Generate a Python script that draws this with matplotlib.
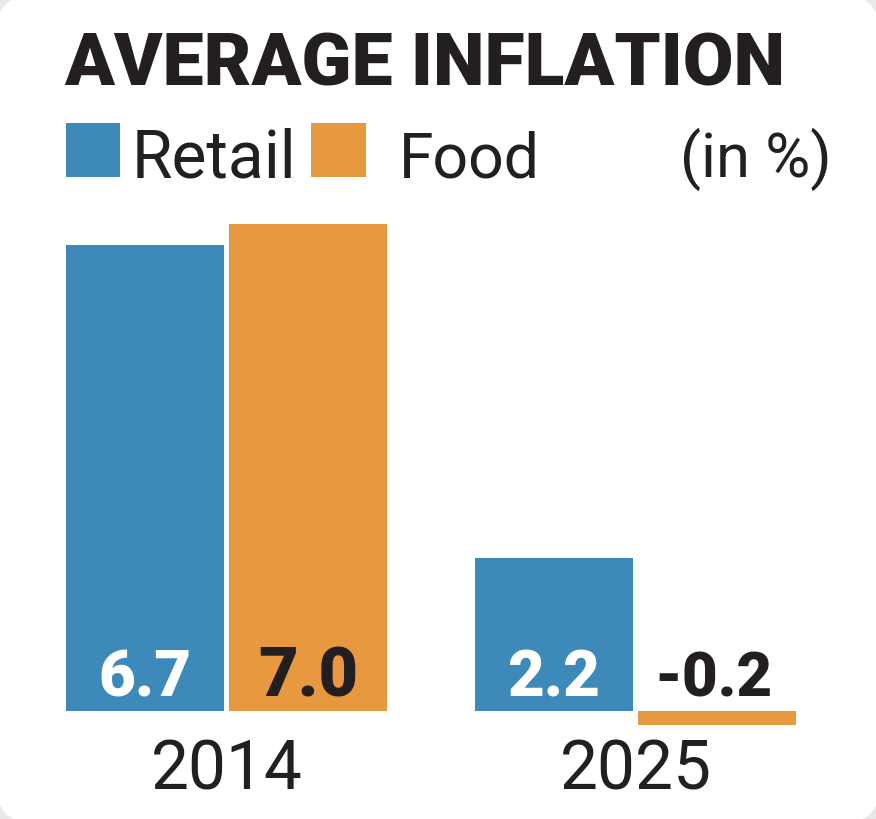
import numpy as np
import matplotlib.pyplot as plt
from matplotlib import font_manager
from matplotlib.patches import FancyBboxPatch, Rectangle

years = ["2014", "2025"]
retail = [6.7, 2.2]
food = [7.0, -0.2]
series_names = ["Retail", "Food"]

BLUE = "#3d89ba"
ORANGE = "#e8983e"
DARK = "#231f20"
FONT = ["Roboto", "DejaVu Sans"]

W, H = 876, 820
fig = plt.figure(figsize=(W / 100, H / 100), dpi=100, facecolor="#e9e9e9")

# white card with rounded corners
card = FancyBboxPatch((-4, -4), W + 8, H + 8, boxstyle="round,pad=0,rounding_size=38",
                      transform=None, facecolor="white", edgecolor="none", zorder=-5)
fig.patches.append(card)


def fx(px):
    return px / W


def fy(py):
    return 1 - py / H


ax = fig.add_axes([0, 0, 1, 1], zorder=2)
ax.set_facecolor("none")
ax.set_xlim(-0.5538, 1.588)
ax.set_ylim(-1.552, 10.23)
ax.axis("off")

x = np.arange(len(years))
bw = 0.386
off = 0.199
ax.bar(x - off, retail, width=bw, color=BLUE)
ax.bar(x + off, food, width=bw, color=ORANGE)

fits = []  # (text, target width in px)
for i in range(len(years)):
    t = ax.text(x[i] - off, 0.22, f"{retail[i]:.1f}", ha="center", va="baseline",
                color="white", fontsize=57, fontweight="black", family=FONT)
    fits.append((t, 93))
    t = ax.text(x[i] + off + (0.0 if food[i] >= 0 else -0.008), 0.22, f"{food[i]:.1f}",
                ha="center", va="baseline",
                color=DARK, fontsize=57, fontweight="black", family=FONT)
    fits.append((t, 100 if food[i] >= 0 else 118))
    t = ax.text(x[i], -1.12, years[i], ha="center", va="baseline",
                color=DARK, fontsize=55, family=FONT)
    fits.append((t, 152))

# title
t = fig.text(fx(64), fy(85), "AVERAGE INFLATION", ha="left", va="baseline",
             fontsize=61, fontweight="black", color=DARK, family=FONT)
fits.append((t, 722))

# legend
fig.patches.append(Rectangle((fx(66), fy(178)), fx(54), 54 / H, transform=fig.transFigure,
                             facecolor=BLUE, edgecolor="none"))
t = fig.text(fx(132), fy(177), series_names[0], ha="left", va="baseline",
             fontsize=55, color=DARK, family=FONT)
fits.append((t, 165))
fig.patches.append(Rectangle((fx(311), fy(178)), fx(55), 54 / H, transform=fig.transFigure,
                             facecolor=ORANGE, edgecolor="none"))
t = fig.text(fx(399), fy(177), series_names[1], ha="left", va="baseline",
             fontsize=55, color=DARK, family=FONT)
fits.append((t, 141))
t = fig.text(fx(832), fy(177), "(in %)", ha="right", va="baseline",
             fontsize=55, color=DARK, family=FONT)
fits.append((t, 152))

# shrink/grow each text to the width it has in the reference
renderer = fig.canvas.get_renderer()
for t, target in fits:
    w = t.get_window_extent(renderer).width
    t.set_fontsize(t.get_fontsize() * target / w)

fig.savefig("out.png", dpi=100, facecolor=fig.get_facecolor())
